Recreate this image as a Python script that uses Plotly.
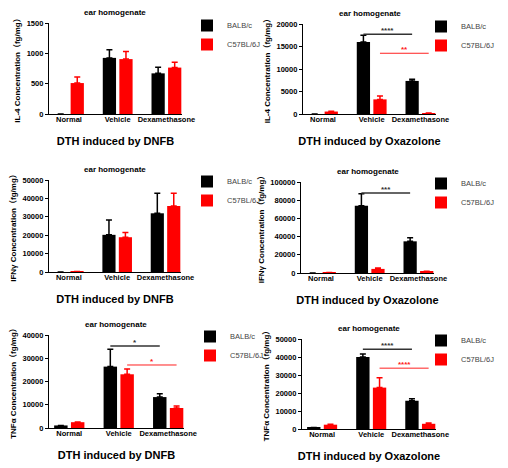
import plotly.graph_objects as go

groups = ['Normal', 'Vehicle', 'Dexamethasone']
strains = ['BALB/c', 'C57BL/6J']

# IL-4, DNFB
il4_dnfb_balb = [0, 925, 670]
il4_dnfb_balb_err = [0, 135, 100]
il4_dnfb_c57 = [510, 905, 765]
il4_dnfb_c57_err = [100, 125, 90]
# IL-4, Oxazolone
il4_oxa_balb = [0, 16000, 7350]
il4_oxa_balb_err = [0, 1500, 350]
il4_oxa_c57 = [550, 3250, 150]
il4_oxa_c57_err = [60, 750, 60]
# IFNy, DNFB
ifn_dnfb_balb = [0, 20200, 31900]
ifn_dnfb_balb_err = [0, 8000, 10900]
ifn_dnfb_c57 = [300, 18900, 35900]
ifn_dnfb_c57_err = [0, 2500, 6900]
# IFNy, Oxazolone
ifn_oxa_balb = [0, 74000, 34800]
ifn_oxa_balb_err = [0, 13000, 4000]
ifn_oxa_c57 = [500, 4500, 1600]
ifn_oxa_c57_err = [0, 900, 300]
# TNFa, DNFB
tnf_dnfb_balb = [1100, 26400, 13300]
tnf_dnfb_balb_err = [0, 7500, 1400]
tnf_dnfb_c57 = [2500, 23100, 8600]
tnf_dnfb_c57_err = [100, 2300, 850]
# TNFa, Oxazolone
tnf_oxa_balb = [900, 40000, 15700]
tnf_oxa_balb_err = [0, 1700, 1100]
tnf_oxa_c57 = [2400, 23000, 2900]
tnf_oxa_c57_err = [200, 5500, 400]

y_titles = ['IL-4 Concentration（fg/mg）', 'IL-4 Concentration（fg/mg）',
            'IFNγ Concentration（fg/mg）', 'IFNγ Concentration（fg/mg）',
            'TNFα Concentration（fg/mg）', 'TNFα Concentration（fg/mg）']
x_titles = ['DTH induced by DNFB', 'DTH induced by Oxazolone'] * 3
y_max = [1500, 20000, 50000, 100000, 40000, 50000]
y_step = [500, 5000, 10000, 20000, 10000, 10000]

# significance: (strain index, from group, to group, line level, stars)
sig_il4_oxa = [(0, 1, 2, 17700, '****'), (1, 1, 2, 13500, '**')]
sig_ifn_oxa = [(0, 1, 2, 87900, '***')]
sig_tnf_dnfb = [(0, 1, 2, 35300, '*'), (1, 1, 2, 27100, '*')]
sig_tnf_oxa = [(0, 1, 2, 44300, '****'), (1, 1, 2, 33800, '****')]

panels = [
    (il4_dnfb_balb, il4_dnfb_balb_err, il4_dnfb_c57, il4_dnfb_c57_err, []),
    (il4_oxa_balb, il4_oxa_balb_err, il4_oxa_c57, il4_oxa_c57_err, sig_il4_oxa),
    (ifn_dnfb_balb, ifn_dnfb_balb_err, ifn_dnfb_c57, ifn_dnfb_c57_err, []),
    (ifn_oxa_balb, ifn_oxa_balb_err, ifn_oxa_c57, ifn_oxa_c57_err, sig_ifn_oxa),
    (tnf_dnfb_balb, tnf_dnfb_balb_err, tnf_dnfb_c57, tnf_dnfb_c57_err, sig_tnf_dnfb),
    (tnf_oxa_balb, tnf_oxa_balb_err, tnf_oxa_c57, tnf_oxa_c57_err, sig_tnf_oxa),
]

# the page body adds an 8px margin, so the figure is drawn 8px smaller
OFF = 8
W, H = 508 - OFF, 468 - OFF
# plot areas in window pixels: left, right, top, bottom
boxes = [(49, 182, 23, 114), (303, 436, 24, 114),
         (49, 181, 180, 272), (301, 434, 182, 273),
         (49, 184, 335, 428), (302, 436, 339, 429)]
legend_left = [187, 421, 187, 421, 190, 421]
legend_top = [11, 12, 167, 169, 322, 326]

colors = ['#000000', '#ff0000']
line_colors = ['#333333', '#ff2020']
bargap = 0.32
font = 'Liberation Sans, Arial, Noto Sans CJK SC, sans-serif'


def px(x):
    return (x - OFF) / W


def py(y):
    return 1 - (y - OFF) / H


fig = go.Figure()
layout = {}
shapes = []
annotations = []
xs = [0, 1, 2]

for i, (b, be, c, ce, sigs) in enumerate(panels):
    n = '' if i == 0 else str(i + 1)
    lg = 'legend' + n
    for s, (vals, errs) in enumerate([(b, be), (c, ce)]):
        fig.add_trace(go.Bar(
            x=xs, y=vals, name=strains[s], marker_color=colors[s],
            marker_line_width=0, xaxis='x' + n, yaxis='y' + n, legend=lg,
            error_y=dict(type='data', symmetric=False, array=errs,
                         arrayminus=[0] * len(errs), color=colors[s],
                         thickness=1.5, width=3)))
    l, r, t, bt = boxes[i]
    layout['xaxis' + n] = dict(
        domain=[px(l), px(r)], anchor='y' + n, range=[-0.41, 2.32],
        tickvals=xs, ticktext=groups, tickangle=0, showline=True,
        linecolor='black', linewidth=1.2, ticks='', showgrid=False,
        zeroline=False, ticklabelstandoff=-2,
        tickfont=dict(size=7.5, family=font, weight='bold', color='black'),
        title=dict(text=x_titles[i], standoff=14,
                   font=dict(size=11, family=font, weight='bold',
                             color='black')))
    layout['yaxis' + n] = dict(
        domain=[py(bt), py(t)], anchor='x' + n,
        range=[0, y_max[i]], dtick=y_step[i], tickformat='d',
        showline=True, linecolor='black', linewidth=1.2, ticks='outside',
        ticklen=3, tickwidth=1.2, tickcolor='black', showgrid=False,
        zeroline=False,
        tickfont=dict(size=7.5, family=font, weight='bold', color='black'),
        title=dict(text=y_titles[i], standoff=4,
                   font=dict(size=8, family=font, weight='bold',
                             color='black')))
    layout[lg] = dict(
        x=px(legend_left[i]), y=py(legend_top[i]), xanchor='left',
        yanchor='top', bgcolor='rgba(0,0,0,0)', tracegroupgap=0,
        font=dict(size=7.5, family=font, color='#444444'))
    annotations.append(dict(
        text='ear homogenate', xref='x' + n + ' domain',
        yref='y' + n + ' domain', x=0.5, y=1, yanchor='bottom', yshift=4,
        showarrow=False,
        font=dict(size=8, family=font, weight='bold', color='black')))
    off = (1 - bargap) / 4
    for s, g0, g1, level, stars in sigs:
        dx = -off if s == 0 else off
        shapes.append(dict(
            type='line', xref='x' + n, yref='y' + n, x0=g0 + dx, x1=g1 + dx,
            y0=level, y1=level,
            line=dict(color=line_colors[s], width=1.5 if s == 0 else 1)))
        annotations.append(dict(
            text=stars, xref='x' + n, yref='y' + n, x=(g0 + g1) / 2 + dx,
            y=level, yanchor='bottom', yshift=-3, showarrow=False,
            font=dict(size=8, family=font, weight='bold',
                      color=line_colors[s])))

fig.update_layout(
    width=W, height=H, margin=dict(l=0, r=0, t=0, b=0, autoexpand=False),
    paper_bgcolor='white', plot_bgcolor='white', barmode='group',
    bargap=bargap, bargroupgap=0.2, shapes=shapes, annotations=annotations,
    **layout)

fig.write_html('out.html')
